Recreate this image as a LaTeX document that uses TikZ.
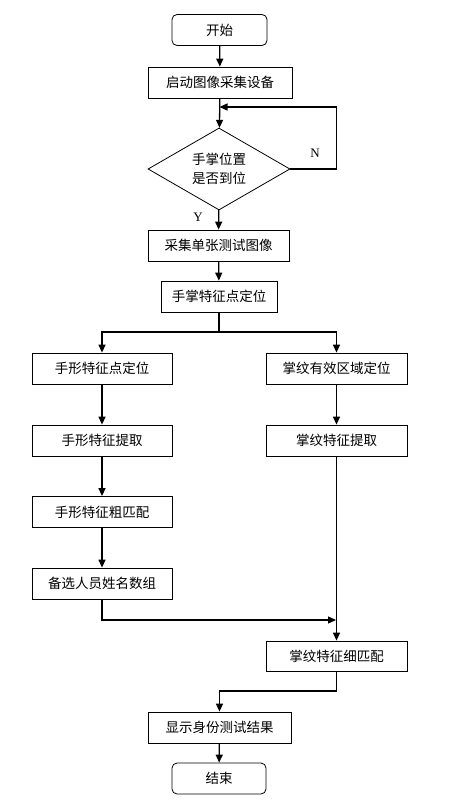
\documentclass[tikz,border=0pt]{standalone}
\usepackage{fontspec}
\setmainfont{Liberation Serif}
\newfontfamily\cjk{Noto Sans CJK SC}
\usetikzlibrary{shapes.geometric}
\usetikzlibrary{arrows.meta}

\begin{document}
\begin{tikzpicture}[
  x=1pt, y=-1pt,
  every node/.style={font=\cjk\fontsize{13.5}{18.5}\selectfont},
  box/.style={draw, rectangle, line width=0.8pt, minimum height=31pt, inner sep=0pt},
  term/.style={box, rounded corners=5pt, minimum width=95pt},
  decision/.style={draw, diamond, line width=0.8pt, aspect=1.73, inner sep=0pt,
    minimum width=142pt, minimum height=82pt, align=center},
  arr/.style={line width=1.3pt, -{Triangle[length=8pt, width=7pt]}},
  line/.style={line width=1.3pt},
]
\useasboundingbox (0,0) rectangle (474,806);

\node (start) [term] at (219.5,30) {开始};
\node (cam) [box, minimum width=144pt] at (220,82.5) {启动图像采集设备};
\node (decide) [decision] at (219,169) {手掌位置\\是否到位};
\node (grab) [box, minimum width=141pt] at (218.5,245.5) {采集单张测试图像};
\node (locate) [box, minimum width=116pt] at (219,296.5) {手掌特征点定位};

\node (handpt) [box, minimum width=140pt] at (102,368.5) {手形特征点定位};
\node (handfeat) [box, minimum width=140pt] at (102,440.5) {手形特征提取};
\node (coarse) [box, minimum width=140pt] at (102,512) {手形特征粗匹配};
\node (names) [box, minimum width=140pt] at (102,583.5) {备选人员姓名数组};

\node (palmroi) [box, minimum width=141pt] at (336.5,368.5) {掌纹有效区域定位};
\node (palmfeat) [box, minimum width=141pt] at (336.5,440.5) {掌纹特征提取};
\node (fine) [box, minimum width=141pt, minimum height=30pt] at (336.5,656) {掌纹特征细匹配};

\node (show) [box, minimum width=143pt] at (219.5,727.5) {显示身份测试结果};
\node (end) [term, minimum width=94pt] at (219,778.5) {结束};

\coordinate (loop) at (219.5,107);
\coordinate (split) at (219,332);
\coordinate (merge) at (336,620);
\coordinate (join) at (336,691);

\draw[arr] (start) -- (cam);
\draw[arr] (cam) -- (decide);
\draw[arr] (decide.east) -- ++(46,0) |- (loop);
\node (no) [font=\fontsize{13}{15}\selectfont] at (315,153) {N};
\draw[arr] (decide) -- (grab);
\node (yes) [font=\fontsize{13}{15}\selectfont] at (198,217) {Y};
\draw[arr] (grab) -- (locate);

\draw[line] (locate) -- (split);
\draw[arr] (split) -| (handpt.north);
\draw[arr] (split) -| (palmroi.north);

\draw[arr] (handpt) -- (handfeat);
\draw[arr] (handfeat) -- (coarse);
\draw[arr] (coarse) -- (names);
\draw[arr] (names.south) |- (merge);

\draw[arr] (palmroi) -- (palmfeat);
\draw[arr] (palmfeat) -- (fine);

\draw[arr] (fine.south) |- (join) -| (show.north);
\draw[arr] (show) -- (end);

\end{tikzpicture}
\end{document}
